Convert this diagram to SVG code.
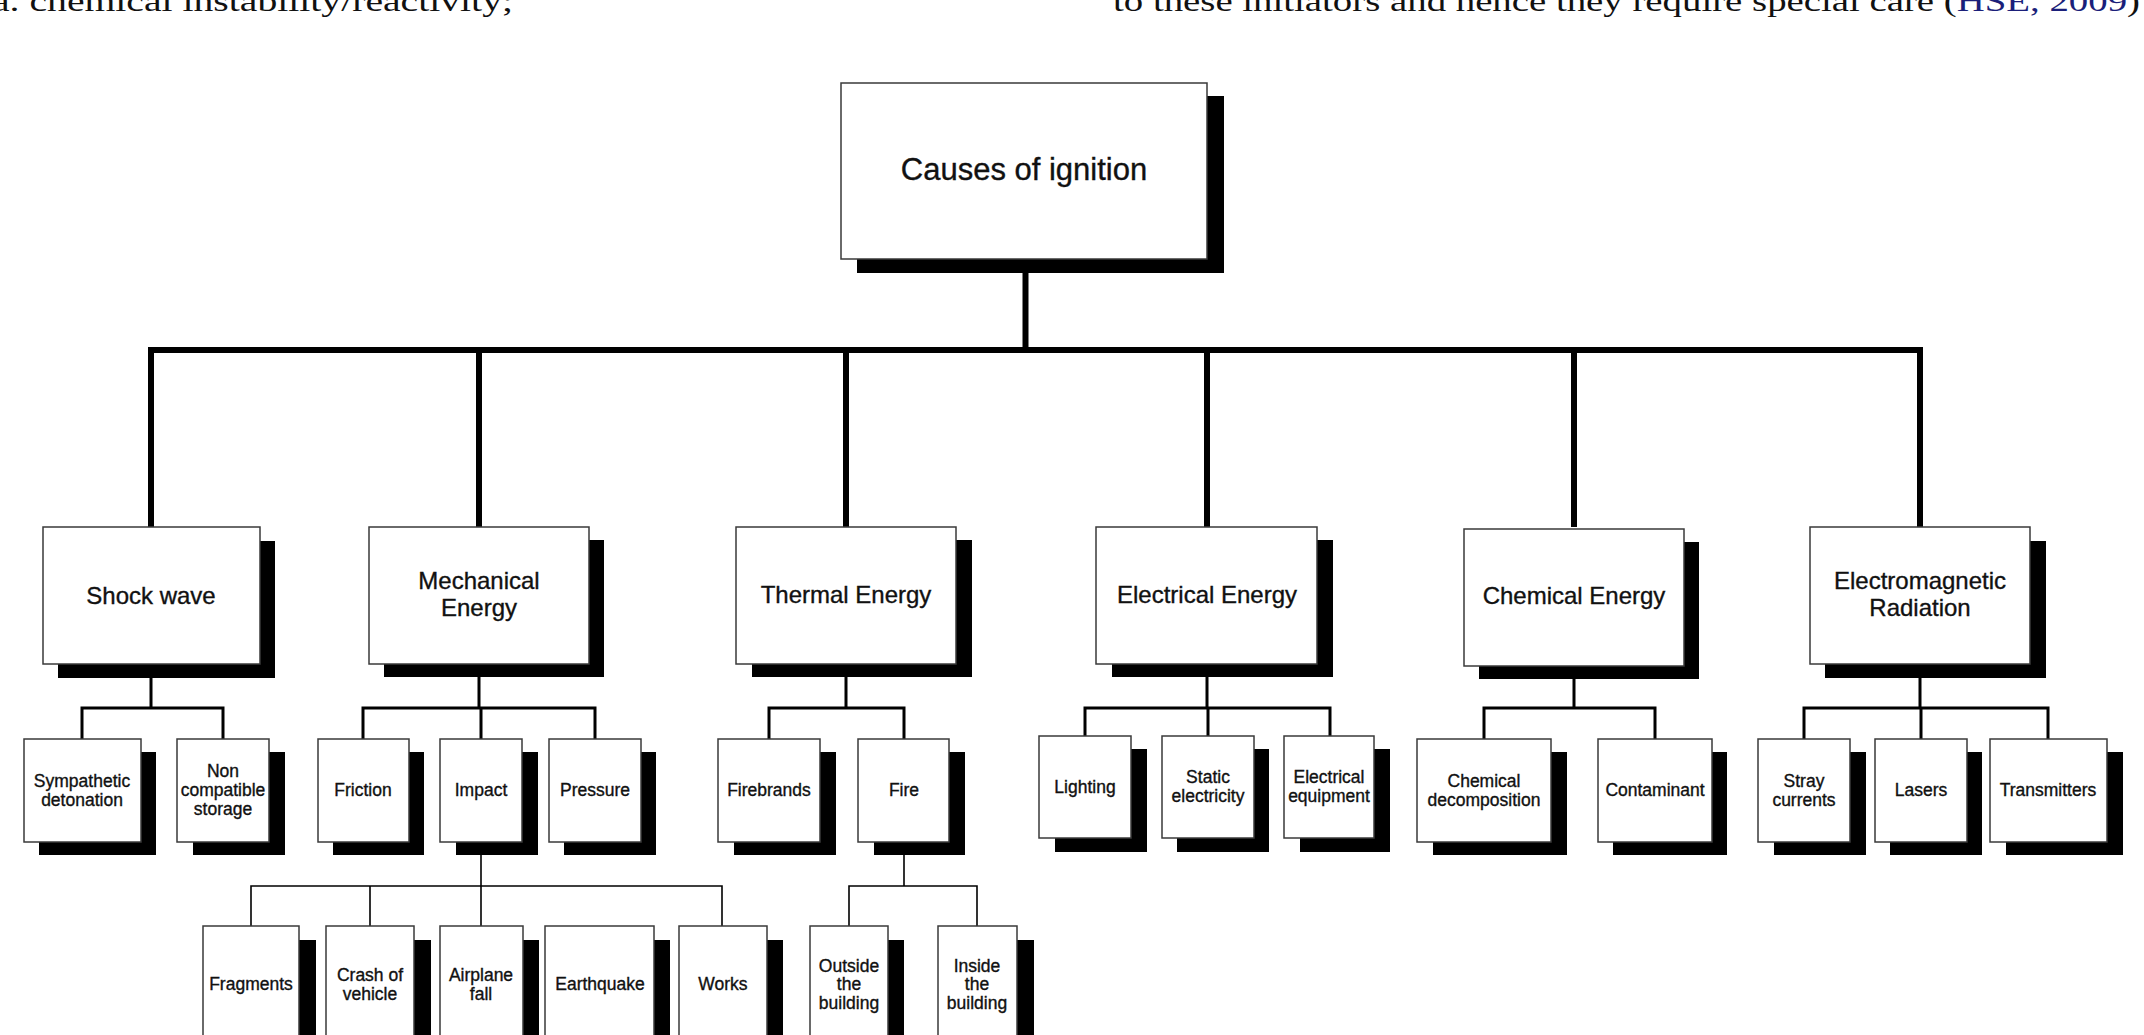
<svg xmlns="http://www.w3.org/2000/svg" width="2144" height="1035" viewBox="0 0 2144 1035">
<style>
.box{fill:#fff;stroke:#3a3a3a;stroke-width:1.5}
.sh{fill:#000}
.t{font-family:"Liberation Sans",Arial,sans-serif;fill:#111;stroke:#111;stroke-width:0.35;text-anchor:middle}
.t0{font-size:31px}
.t1{font-size:24px}
.t2{font-size:17.5px}
.c1{fill:none;stroke:#000;stroke-width:6;stroke-linejoin:miter;stroke-linecap:butt}
.c2{fill:none;stroke:#000;stroke-width:3;stroke-linecap:butt}
.c3{fill:none;stroke:#000;stroke-width:1.6;stroke-linecap:butt}
.page{font-family:"Liberation Serif","Times New Roman",serif;font-size:30px;fill:#111}
</style>
<rect width="2144" height="1035" fill="#fff"/>
<g id="page-text">
<text class="page" x="-8" y="11" textLength="521" lengthAdjust="spacingAndGlyphs">a. chemical instability/reactivity;</text>
<text class="page" x="1113" y="11" textLength="1027" lengthAdjust="spacingAndGlyphs">to these initiators and hence they require special care (<tspan fill="#1b1f7a">HSE, 2009</tspan>)</text>
</g>
<g id="connectors">
<path class="c1" d="M1025.5,259 V350"/>
<path class="c1" d="M151,527 V350 H1920 V527"/>
<path class="c1" d="M479,350 V527 M846,350 V527 M1207,350 V527 M1574,350 V527"/>
<path class="c2" d="M151,664 V708 M82,739 V708 H223 V739"/>
<path class="c2" d="M479,663 V708 M363,739 V708 H595 V739 M481,708 V739"/>
<path class="c2" d="M846,663 V708 M769,739 V708 H904 V739"/>
<path class="c2" d="M1207,664 V708 M1085,736 V708 H1330 V736 M1208,708 V736"/>
<path class="c2" d="M1574,665 V708 M1484,739 V708 H1655 V739"/>
<path class="c2" d="M1920,664 V708 M1804,739 V708 H2048 V739 M1921,708 V739"/>
<path class="c3" d="M481,854 V886 M251,926 V886 H722 V926 M370,886 V926 M481,886 V926"/>
<path class="c3" d="M904,854 V886 M849,926 V886 H977 V926"/>
</g>
<g id="root">
<rect class="sh" x="857" y="96" width="367" height="177"/>
<rect class="box" x="841" y="83" width="366" height="176"/>
<text class="t t0" x="1024" y="180">Causes of ignition</text>
</g>
<g id="shock-wave">
<rect class="sh" x="58" y="541" width="217" height="137"/>
<rect class="box" x="43" y="527" width="217" height="137"/>
<text class="t t1" x="151" y="604">Shock wave</text>
</g>
<g id="mechanical-energy">
<rect class="sh" x="384" y="540" width="220" height="137"/>
<rect class="box" x="369" y="527" width="220" height="137"/>
<text class="t t1" x="479" y="589">Mechanical</text>
<text class="t t1" x="479" y="616">Energy</text>
</g>
<g id="thermal-energy">
<rect class="sh" x="752" y="540" width="220" height="137"/>
<rect class="box" x="736" y="527" width="220" height="137"/>
<text class="t t1" x="846" y="603">Thermal Energy</text>
</g>
<g id="electrical-energy">
<rect class="sh" x="1112" y="540" width="221" height="137"/>
<rect class="box" x="1096" y="527" width="221" height="137"/>
<text class="t t1" x="1207" y="603">Electrical Energy</text>
</g>
<g id="chemical-energy">
<rect class="sh" x="1479" y="542" width="220" height="137"/>
<rect class="box" x="1464" y="529" width="220" height="137"/>
<text class="t t1" x="1574" y="604">Chemical Energy</text>
</g>
<g id="electromagnetic-radiation">
<rect class="sh" x="1825" y="541" width="221" height="137"/>
<rect class="box" x="1810" y="527" width="220" height="137"/>
<text class="t t1" x="1920" y="589">Electromagnetic</text>
<text class="t t1" x="1920" y="616">Radiation</text>
</g>
<g id="sympathetic-detonation">
<rect class="sh" x="39" y="752" width="117" height="103"/>
<rect class="box" x="24" y="739" width="117" height="103"/>
<text class="t t2" x="82" y="787">Sympathetic</text>
<text class="t t2" x="82" y="806">detonation</text>
</g>
<g id="non-compatible-storage">
<rect class="sh" x="193" y="752" width="92" height="103"/>
<rect class="box" x="177" y="739" width="92" height="103"/>
<text class="t t2" x="223" y="777">Non</text>
<text class="t t2" x="223" y="796">compatible</text>
<text class="t t2" x="223" y="815">storage</text>
</g>
<g id="friction">
<rect class="sh" x="333" y="752" width="91" height="103"/>
<rect class="box" x="318" y="739" width="91" height="103"/>
<text class="t t2" x="363" y="796">Friction</text>
</g>
<g id="impact">
<rect class="sh" x="456" y="752" width="82" height="103"/>
<rect class="box" x="440" y="739" width="82" height="103"/>
<text class="t t2" x="481" y="796">Impact</text>
</g>
<g id="pressure">
<rect class="sh" x="564" y="752" width="92" height="103"/>
<rect class="box" x="549" y="739" width="92" height="103"/>
<text class="t t2" x="595" y="796">Pressure</text>
</g>
<g id="firebrands">
<rect class="sh" x="734" y="752" width="102" height="103"/>
<rect class="box" x="718" y="739" width="102" height="103"/>
<text class="t t2" x="769" y="796">Firebrands</text>
</g>
<g id="fire">
<rect class="sh" x="874" y="752" width="91" height="103"/>
<rect class="box" x="858" y="739" width="91" height="103"/>
<text class="t t2" x="904" y="796">Fire</text>
</g>
<g id="lighting">
<rect class="sh" x="1055" y="749" width="92" height="103"/>
<rect class="box" x="1039" y="736" width="92" height="102"/>
<text class="t t2" x="1085" y="793">Lighting</text>
</g>
<g id="static-electricity">
<rect class="sh" x="1177" y="749" width="92" height="103"/>
<rect class="box" x="1162" y="736" width="92" height="102"/>
<text class="t t2" x="1208" y="783">Static</text>
<text class="t t2" x="1208" y="802">electricity</text>
</g>
<g id="electrical-equipment">
<rect class="sh" x="1300" y="749" width="90" height="103"/>
<rect class="box" x="1284" y="736" width="90" height="102"/>
<text class="t t2" x="1329" y="783">Electrical</text>
<text class="t t2" x="1329" y="802">equipment</text>
</g>
<g id="chemical-decomposition">
<rect class="sh" x="1433" y="752" width="134" height="103"/>
<rect class="box" x="1417" y="739" width="134" height="103"/>
<text class="t t2" x="1484" y="787">Chemical</text>
<text class="t t2" x="1484" y="806">decomposition</text>
</g>
<g id="contaminant">
<rect class="sh" x="1613" y="752" width="114" height="103"/>
<rect class="box" x="1598" y="739" width="114" height="103"/>
<text class="t t2" x="1655" y="796">Contaminant</text>
</g>
<g id="stray-currents">
<rect class="sh" x="1774" y="752" width="92" height="103"/>
<rect class="box" x="1758" y="739" width="92" height="103"/>
<text class="t t2" x="1804" y="787">Stray</text>
<text class="t t2" x="1804" y="806">currents</text>
</g>
<g id="lasers">
<rect class="sh" x="1890" y="752" width="92" height="103"/>
<rect class="box" x="1875" y="739" width="92" height="103"/>
<text class="t t2" x="1921" y="796">Lasers</text>
</g>
<g id="transmitters">
<rect class="sh" x="2006" y="752" width="117" height="103"/>
<rect class="box" x="1990" y="739" width="117" height="103"/>
<text class="t t2" x="2048" y="796">Transmitters</text>
</g>
<g id="fragments">
<rect class="sh" x="220" y="940" width="96" height="130"/>
<rect class="box" x="203" y="926" width="96" height="130"/>
<text class="t t2" x="251" y="990">Fragments</text>
</g>
<g id="crash-of-vehicle">
<rect class="sh" x="343" y="940" width="88" height="130"/>
<rect class="box" x="326" y="926" width="88" height="130"/>
<text class="t t2" x="370" y="981">Crash of</text>
<text class="t t2" x="370" y="1000">vehicle</text>
</g>
<g id="airplane-fall">
<rect class="sh" x="456" y="940" width="83" height="130"/>
<rect class="box" x="440" y="926" width="83" height="130"/>
<text class="t t2" x="481" y="981">Airplane</text>
<text class="t t2" x="481" y="1000">fall</text>
</g>
<g id="earthquake">
<rect class="sh" x="561" y="940" width="109" height="130"/>
<rect class="box" x="545" y="926" width="109" height="130"/>
<text class="t t2" x="600" y="990">Earthquake</text>
</g>
<g id="works">
<rect class="sh" x="695" y="940" width="88" height="130"/>
<rect class="box" x="679" y="926" width="88" height="130"/>
<text class="t t2" x="723" y="990">Works</text>
</g>
<g id="outside-the-building">
<rect class="sh" x="826" y="940" width="78" height="130"/>
<rect class="box" x="810" y="926" width="78" height="130"/>
<text class="t t2" x="849" y="972">Outside</text>
<text class="t t2" x="849" y="990">the</text>
<text class="t t2" x="849" y="1009">building</text>
</g>
<g id="inside-the-building">
<rect class="sh" x="955" y="940" width="79" height="130"/>
<rect class="box" x="938" y="926" width="79" height="130"/>
<text class="t t2" x="977" y="972">Inside</text>
<text class="t t2" x="977" y="990">the</text>
<text class="t t2" x="977" y="1009">building</text>
</g>
</svg>
